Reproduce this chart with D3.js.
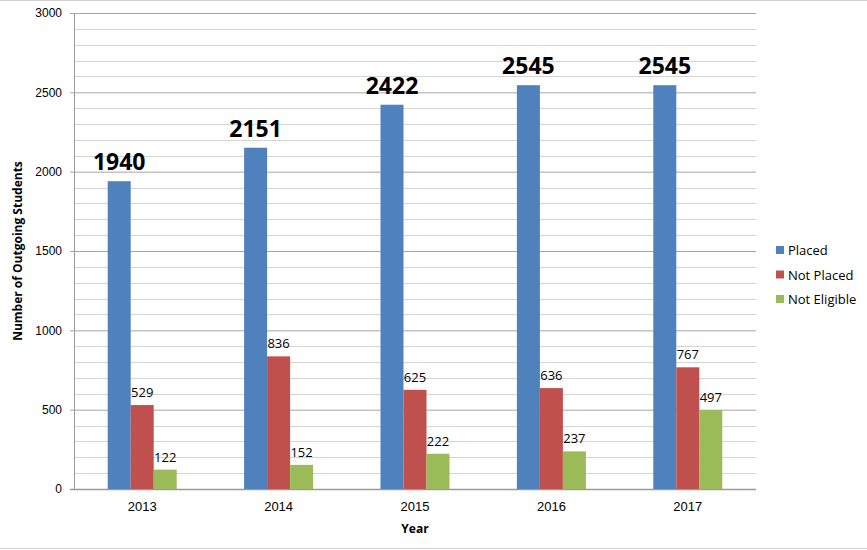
<!DOCTYPE html>
<html>
<head>
<meta charset="utf-8">
<script src="https://cdn.jsdelivr.net/npm/d3@7"></script>
<style>
  body { margin: 0; background: #fff; }
  svg { display: block; font-family: "Open Sans", "Noto Sans", sans-serif; }
</style>
</head>
<body>
<div id="chart"></div>
<script>
// data
const years = ['2013', '2014', '2015', '2016', '2017'];
const seriesNames = ['Placed', 'Not Placed', 'Not Eligible'];
const placed = [1940, 2151, 2422, 2545, 2545];
const notPlaced = [529, 836, 625, 636, 767];
const notEligible = [122, 152, 222, 237, 497];
const yTicks = [0, 500, 1000, 1500, 2000, 2500, 3000];

const colors = ['#4f81bd', '#c0504d', '#9bbb59'];

const width = 867, height = 550;
const margin = { top: 13, right: 111, bottom: 61, left: 74 };

const svg = d3.select('#chart').append('svg')
    .attr('width', width)
    .attr('height', height);

// thin frame lines at top and bottom of the picture
svg.append('line').attr('x1', 0).attr('x2', width).attr('y1', 0.5).attr('y2', 0.5)
    .attr('stroke', '#d0d0d0');
svg.append('line').attr('x1', 0).attr('x2', width).attr('y1', 548.5).attr('y2', 548.5)
    .attr('stroke', '#d0d0d0');

const x0 = d3.scaleBand()
    .domain(years)
    .range([margin.left, width - margin.right]);

const x1 = d3.scaleBand()
    .domain(seriesNames)
    .range([x0.bandwidth() / 2 - 34.5, x0.bandwidth() / 2 + 34.5]);

const y = d3.scaleLinear()
    .domain([0, 3000])
    .range([height - margin.bottom, margin.top]);

const g = svg.append('g');

// minor gridlines every 100
g.append('g')
    .selectAll('line')
    .data(d3.range(100, 3001, 100).filter(v => v % 500 !== 0))
    .enter()
    .append('line')
    .attr('x1', margin.left)
    .attr('x2', width - margin.right)
    .attr('y1', d => Math.round(y(d)) + 0.5)
    .attr('y2', d => Math.round(y(d)) + 0.5)
    .attr('stroke', '#d4d4d4')
    .attr('stroke-width', 1);

// y axis with major gridlines
const yAxis = d3.axisLeft(y)
    .tickValues(yTicks)
    .tickSize(-(width - margin.left - margin.right))
    .tickPadding(12)
    .tickFormat(d3.format('d'));

const yG = g.append('g')
    .attr('transform', `translate(${margin.left},0)`)
    .call(yAxis);
yG.select('.domain').remove();
yG.selectAll('.tick line')
    .attr('stroke', '#a6a6a6')
    .attr('x1', -4);
yG.selectAll('.tick text')
    .attr('font-size', 12)
    .attr('fill', '#000');

// axis lines
g.append('line')
    .attr('x1', margin.left + 0.5).attr('x2', margin.left + 0.5)
    .attr('y1', margin.top).attr('y2', y(0))
    .attr('stroke', '#9a9a9a');
g.append('line')
    .attr('x1', margin.left - 4).attr('x2', width - margin.right)
    .attr('y1', y(0) + 0.5).attr('y2', y(0) + 0.5)
    .attr('stroke', '#9a9a9a')
    .attr('stroke-width', 1.5);

// x axis labels
const xAxis = d3.axisBottom(x0).tickSize(0).tickPadding(13);
const xG = g.append('g')
    .attr('transform', `translate(0,${y(0)})`)
    .call(xAxis);
xG.select('.domain').remove();
xG.selectAll('.tick text')
    .attr('font-size', 13)
    .attr('fill', '#000');

// bars
const rows = years.map((yr, i) => ({
    year: yr,
    values: [placed[i], notPlaced[i], notEligible[i]]
}));

const groups = g.append('g')
    .selectAll('g')
    .data(rows)
    .enter()
    .append('g')
    .attr('transform', d => `translate(${x0(d.year)},0)`);

groups.selectAll('rect')
    .data(d => d.values.map((v, k) => ({ key: seriesNames[k], value: v, k })))
    .enter()
    .append('rect')
    .attr('x', d => x1(d.key))
    .attr('width', x1.bandwidth())
    .attr('y', d => y(d.value))
    .attr('height', d => y(0) - y(d.value))
    .attr('fill', d => colors[d.k]);

// value labels
groups.selectAll('text.val')
    .data(d => d.values.map((v, k) => ({ key: seriesNames[k], value: v, k })))
    .enter()
    .append('text')
    .attr('class', 'val')
    .attr('x', d => x1(d.key) + x1.bandwidth() / 2)
    .attr('y', d => y(d.value) - (d.k === 0 ? 11 : 8))
    .attr('text-anchor', 'middle')
    .attr('font-size', d => d.k === 0 ? 23 : 13)
    .attr('font-weight', d => d.k === 0 ? 'bold' : 'normal')
    .attr('fill', '#000')
    .text(d => d.value);

// axis titles
svg.append('text')
    .attr('transform', `translate(22,${(margin.top + y(0)) / 2}) rotate(-90)`)
    .attr('text-anchor', 'middle')
    .attr('font-size', 12)
    .attr('font-weight', 'bold')
    .text('Number of Outgoing Students');

svg.append('text')
    .attr('x', (margin.left + width - margin.right) / 2)
    .attr('y', 533)
    .attr('text-anchor', 'middle')
    .attr('font-size', 12)
    .attr('font-weight', 'bold')
    .text('Year');

// legend
const legend = svg.append('g')
    .attr('transform', 'translate(776,246)');
const items = legend.selectAll('g')
    .data(seriesNames)
    .enter()
    .append('g')
    .attr('transform', (d, i) => `translate(0,${i * 24.5})`);
items.append('rect')
    .attr('width', 8)
    .attr('height', 8)
    .attr('fill', (d, i) => colors[i]);
items.append('text')
    .attr('x', 12)
    .attr('y', 9)
    .attr('font-size', 13)
    .text(d => d);
</script>
</body>
</html>
